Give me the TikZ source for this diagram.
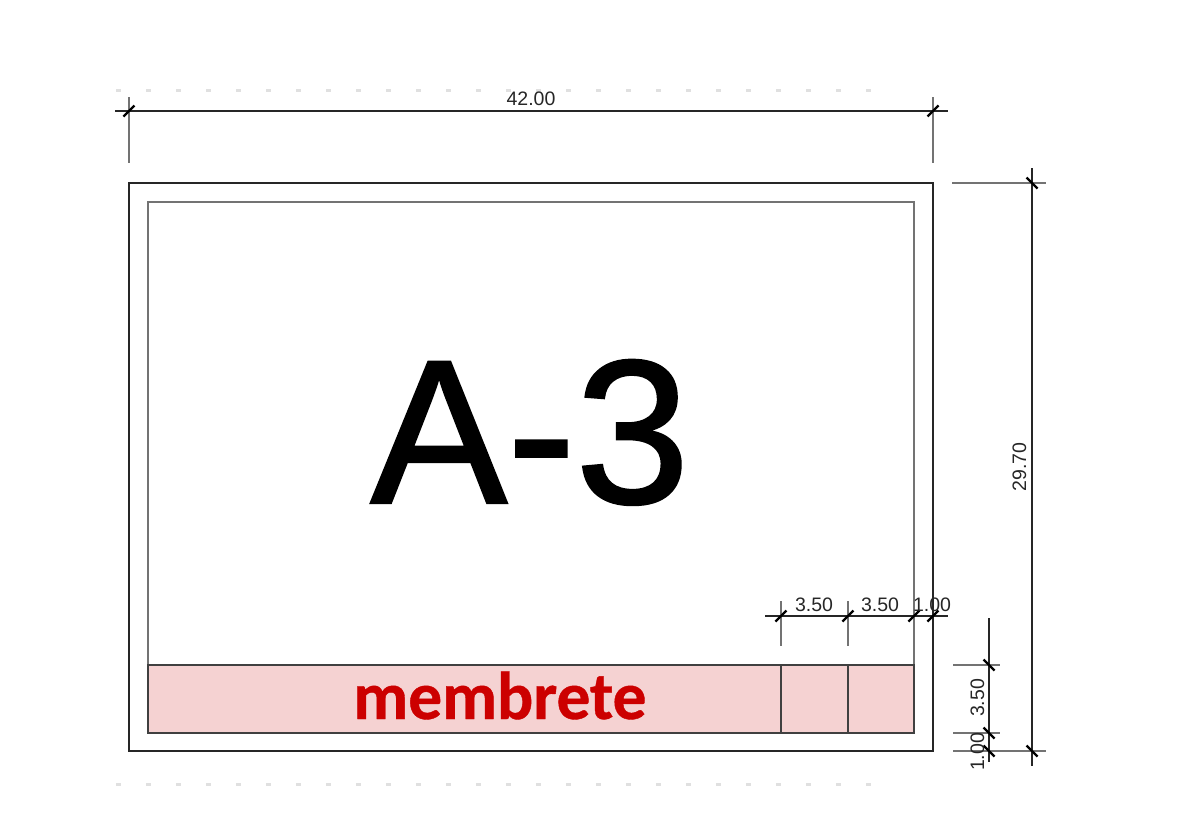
\documentclass[tikz,border=0pt]{standalone}
\usepackage{fontspec}
\setmainfont{Liberation Sans}
\newfontfamily\carlito[FakeBold=0.6]{Carlito}
\newfontfamily\bigsans[FakeBold=1.2]{Liberation Sans}
\definecolor{blockfill}{RGB}{245,210,210}
\definecolor{redtxt}{RGB}{204,0,0}
\begin{document}
\begin{tikzpicture}[x=1pt,y=-1pt,
  outerframe/.style={draw=black!85, line width=1.4pt},
  innerframe/.style={draw=black!55, line width=1.1pt},
  blockline/.style={draw=black!75, line width=1.2pt},
  extline/.style={draw=black!55, line width=1.1pt},
  dimline/.style={draw=black!85, line width=1.1pt},
  ticky/.style={draw=black, line width=2.4pt},
  dimtxt/.style={font=\fontsize{19.5}{19.5}\selectfont, inner sep=0pt, text=black!85},
  artifact/.style={fill=black!12}]
\useasboundingbox (0,0) rectangle (1200,831);
\newcommand\tkh[1]{\draw[ticky] ([shift={(-5.5,5.5)}]#1) -- ([shift={(5.5,-5.5)}]#1);}
\newcommand\tkv[1]{\draw[ticky] ([shift={(-5.5,-5.5)}]#1) -- ([shift={(5.5,5.5)}]#1);}

% faint scan artifacts
\foreach \i in {0,...,25} {
  \fill[artifact] (118+30*\i-2.5,88.5) rectangle (118+30*\i+2.5,91.5);
  \fill[artifact] (118+30*\i-2.5,782.5) rectangle (118+30*\i+2.5,785.5);
}

% frames
\coordinate (O1) at (129,183); \coordinate (O2) at (933,751);
\coordinate (I1) at (148,202); \coordinate (I2) at (914,733);
\draw[outerframe] (O1) rectangle (O2);
\draw[innerframe] (I1) rectangle (I2);

% title block
\coordinate (B1) at (148,665);
\fill[blockfill] (B1) rectangle (I2);
\draw[blockline] (B1) rectangle (I2);
\draw[blockline] (781,665) -- (781,733);
\draw[blockline] (848,665) -- (848,733);
\node[font=\carlito\bfseries\fontsize{67.5}{67.5}\selectfont, text=redtxt, anchor=base, inner sep=0pt] (memb) at (500,719) {membrete};

% big label
\node[font=\bigsans\fontsize{205}{205}\selectfont, anchor=base, inner sep=0pt] (a3) at (530,503) {A-3};

% top dimension 42.00
\draw[extline] (129,97) -- (129,163);
\draw[extline] (933,97) -- (933,163);
\coordinate (T1) at (129,111); \coordinate (T2) at (933,111);
\draw[dimline] (115,111) -- (948,111);
\tkh{T1} \tkh{T2}
\node[dimtxt, anchor=base] (t42) at (531,105) {42.00};

% right dimension 29.70
\draw[extline] (952,183) -- (1046,183);
\draw[extline] (953,751) -- (1046,751);
\coordinate (R1) at (1032,183); \coordinate (R2) at (1032,751);
\draw[dimline] (1032,168) -- (1032,766);
\tkv{R1} \tkv{R2}
\node[dimtxt, rotate=90, anchor=base] (t297) at (1026,467) {29.70};

% small vertical dims 3.50 / 1.00
\draw[extline] (953,665) -- (1000,665);
\draw[extline] (953,733) -- (1000,733);
\coordinate (S1) at (989,665); \coordinate (S2) at (989,733); \coordinate (S3) at (989,751);
\draw[dimline] (989,618) -- (989,762);
\tkv{S1} \tkv{S2} \tkv{S3}
\node[dimtxt, rotate=90, anchor=base] (t35v) at (984,698) {3.50};
\node[dimtxt, rotate=90, anchor=base] (t10v) at (984,752) {1.00};

% small horizontal dims 3.50 3.50 1.00
\draw[extline] (781,601) -- (781,646);
\draw[extline] (848,601) -- (848,646);
\coordinate (H1) at (781,616); \coordinate (H2) at (848,616);
\coordinate (H3) at (914,616); \coordinate (H4) at (933,616);
\draw[dimline] (765,616) -- (948,616);
\tkh{H1} \tkh{H2} \tkh{H3} \tkh{H4}
\node[dimtxt, anchor=base] (t35a) at (814,611) {3.50};
\node[dimtxt, anchor=base] (t35b) at (880,611) {3.50};
\node[dimtxt, anchor=base] (t10h) at (932,611) {1.00};
\end{tikzpicture}
\end{document}
